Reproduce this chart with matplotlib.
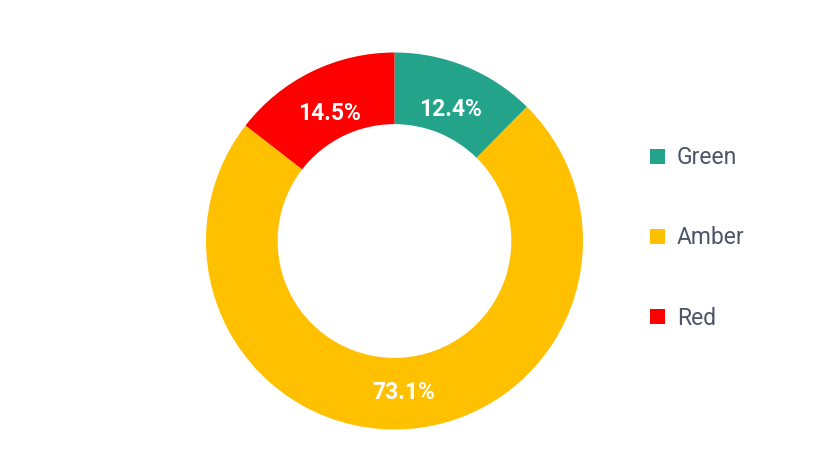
import matplotlib.pyplot as plt
from matplotlib.patches import Patch

categories = ['Green', 'Amber', 'Red']
shares = [12.4, 73.1, 14.5]
colors = ['#22A38A', '#FFC000', '#FF0000']

W, H = 827, 471
fig = plt.figure(figsize=(W / 100, H / 100), dpi=100)

cx, cy, r = 394.5, 241, 188.5
ax = fig.add_axes([(cx - r) / W, (H - cy - r) / H, 2 * r / W, 2 * r / H])
wedges, texts, autotexts = ax.pie(
    shares, colors=colors, startangle=90, counterclock=False, radius=1,
    autopct='%1.1f%%', pctdistance=0.78,
    wedgeprops=dict(width=0.38, linewidth=0),
    textprops=dict(color='white', fontsize=16.5, fontweight='bold', family='Roboto'))
# labels sit a little lower than matplotlib's centring
for t in autotexts:
    x, y = t.get_position()
    t.set_position((x, y - 0.023))
ax.set_xlim(-1, 1)
ax.set_ylim(-1, 1)
ax.axis('off')

handles = [Patch(facecolor=c, edgecolor='none') for c in colors]
leg = fig.legend(handles, categories, loc='center left',
                 bbox_to_anchor=(650 / W, (H - 238) / H),
                 frameon=False, borderpad=0, borderaxespad=0,
                 handlelength=0.655, handleheight=0.655, handletextpad=0.52,
                 labelspacing=2.49, prop=dict(family='Roboto', size=16.5))
for t in leg.get_texts():
    t.set_color('#4A5568')

fig.savefig('out.png', dpi=100)
